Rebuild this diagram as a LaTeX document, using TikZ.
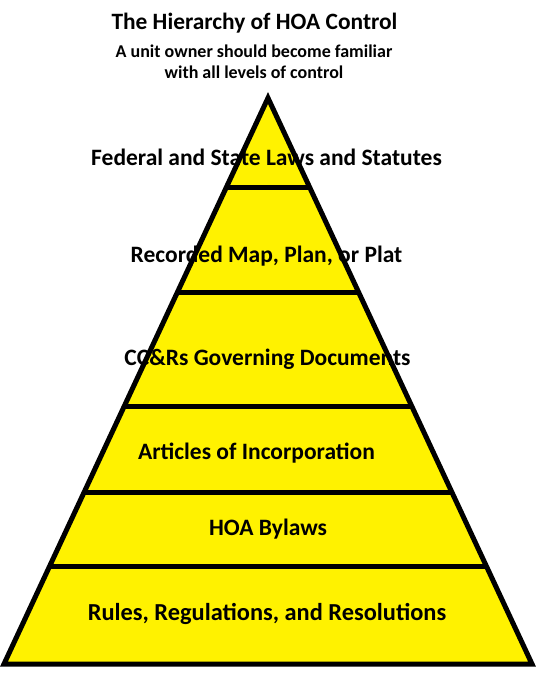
\documentclass[tikz,border=0pt]{standalone}
\usepackage{fontspec}
\setmainfont{Carlito}
\usetikzlibrary{calc}

\begin{document}
\begin{tikzpicture}[x=1pt,y=-1pt]
	\useasboundingbox (0,0) rectangle (539,684);
	
	\coordinate (apex) at (268,98);
	\coordinate (bl) at (4,664);
	\coordinate (br) at (532,664);
	
	\fill[yellow] (apex) -- (bl) -- (br) -- cycle;
	
	\node[font=\fontsize{23.4}{27}\selectfont\bfseries] (title) at (254.5,23) {The Hierarchy of HOA Control};
	\node[font=\fontsize{18}{21}\selectfont\bfseries,align=center] (sub) at (254,62) {A unit owner should become familiar\\with all levels of control};
	
	\node[font=\fontsize{23.5}{27}\selectfont\bfseries] (federal) at (266.5,157) {Federal and State Laws and Statutes};
	\node[font=\fontsize{23.5}{27}\selectfont\bfseries] (map) at (266.5,256) {Recorded Map, Plan, or Plat};
	\node[font=\fontsize{23.5}{27}\selectfont\bfseries] (ccr) at (267.5,359) {CC\&Rs Governing Documents};
	\node[font=\fontsize{23.5}{27}\selectfont\bfseries] (articles) at (256.5,453) {Articles of Incorporation};
	\node[font=\fontsize{23.5}{27}\selectfont\bfseries] (bylaws) at (268,529) {HOA Bylaws};
	\node[font=\fontsize{24.4}{28}\selectfont\bfseries] (rules) at (267,614) {Rules, Regulations, and Resolutions};
	
	\draw[line width=5pt,line join=miter] (apex) -- (bl) -- (br) -- cycle;
	\draw[line width=5pt] ($(apex)!0.159!(bl)$) -- ($(apex)!0.159!(br)$);
	\draw[line width=5pt] ($(apex)!0.3428!(bl)$) -- ($(apex)!0.3428!(br)$);
	\draw[line width=5pt] ($(apex)!0.5459!(bl)$) -- ($(apex)!0.5459!(br)$);
	\draw[line width=5pt] ($(apex)!0.6961!(bl)$) -- ($(apex)!0.6961!(br)$);
	\draw[line width=5pt] ($(apex)!0.8286!(bl)$) -- ($(apex)!0.8286!(br)$);
\end{tikzpicture}
\end{document}
